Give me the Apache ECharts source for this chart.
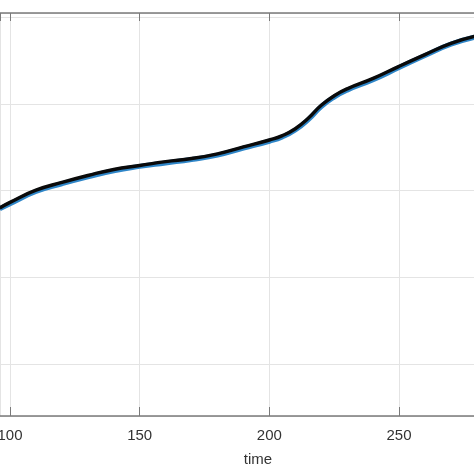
<!DOCTYPE html>
<html>
<head>
<meta charset="utf-8">
<script src="https://cdn.jsdelivr.net/npm/echarts@6/dist/echarts.min.js"></script>
<style>html,body{margin:0;padding:0;background:#fff;}#c{width:474px;height:474px;}</style>
</head>
<body>
<div id="c"></div>
<script>
var times = [96, 100, 110, 120, 130, 140, 150, 160, 170, 180, 190, 200, 205, 210, 215, 220, 225, 230, 240, 250, 260, 270, 279];
var trueValues = [2.79, 2.85, 2.99, 3.08, 3.16, 3.23, 3.28, 3.32, 3.36, 3.41, 3.49, 3.57, 3.62, 3.70, 3.82, 3.97, 4.08, 4.16, 4.28, 4.42, 4.56, 4.69, 4.77];
var estValues = [2.80, 2.865, 3.005, 3.095, 3.175, 3.245, 3.29, 3.335, 3.37, 3.425, 3.505, 3.585, 3.635, 3.715, 3.835, 3.985, 4.095, 4.175, 4.295, 4.435, 4.57, 4.70, 4.78];
var xTickStep = 50;
var axisLabelText = 'time';

function pairs(xs, ys) { return xs.map(function (x, i) { return [x, ys[i]]; }); }

var chart = echarts.init(document.getElementById('c'));
var xMin = 96.14, xMax = 278.9;
var axisGray = '#7a7a7a';
chart.setOption({
  animation: false,
  backgroundColor: '#fff',
  grid: { left: 0, right: 0, top: 13, bottom: 58, containLabel: false, outerBoundsMode: 'none' },
  xAxis: [{
    type: 'value', min: xMin, max: xMax, minInterval: xTickStep, maxInterval: xTickStep,
    position: 'bottom',
    axisLine: { show: true, onZero: false, lineStyle: { color: axisGray, width: 1.5 } },
    axisTick: { show: true, inside: true, length: 9, lineStyle: { color: axisGray, width: 1 } },
    axisLabel: { show: true, showMinLabel: false, showMaxLabel: false, margin: 12, fontSize: 15,
      color: '#333', fontFamily: 'Liberation Sans, Arial, sans-serif' },
    splitLine: { show: true, lineStyle: { color: '#e4e4e4', width: 1 } }
  }, {
    type: 'value', min: xMin, max: xMax, minInterval: xTickStep, maxInterval: xTickStep,
    position: 'top',
    axisLine: { show: true, onZero: false, lineStyle: { color: axisGray, width: 1.5 } },
    axisTick: { show: true, inside: true, length: 8, lineStyle: { color: axisGray, width: 1 } },
    axisLabel: { show: false },
    splitLine: { show: false }
  }],
  yAxis: {
    type: 'value', min: 0.4, max: 5.05, minInterval: 1, maxInterval: 1,
    axisLine: { show: false }, axisTick: { show: false }, axisLabel: { show: false },
    splitLine: { show: true, lineStyle: { color: '#e4e4e4', width: 1 } }
  },
  graphic: [{
    type: 'text', x: 258, y: 460,
    style: { text: axisLabelText, align: 'center', verticalAlign: 'middle', textAlign: 'center',
      textVerticalAlign: 'middle', fontSize: 15, fill: '#333', fontFamily: 'Liberation Sans, Arial, sans-serif' }
  }],
  series: [{
    type: 'line', data: pairs(times, trueValues), smooth: true, symbol: 'none',
    lineStyle: { color: '#2f86c8', width: 5 }
  }, {
    type: 'line', data: pairs(times, estValues), smooth: true, symbol: 'none',
    lineStyle: { color: '#0a0a0a', width: 3.5 }
  }]
});
</script>
</body>
</html>
